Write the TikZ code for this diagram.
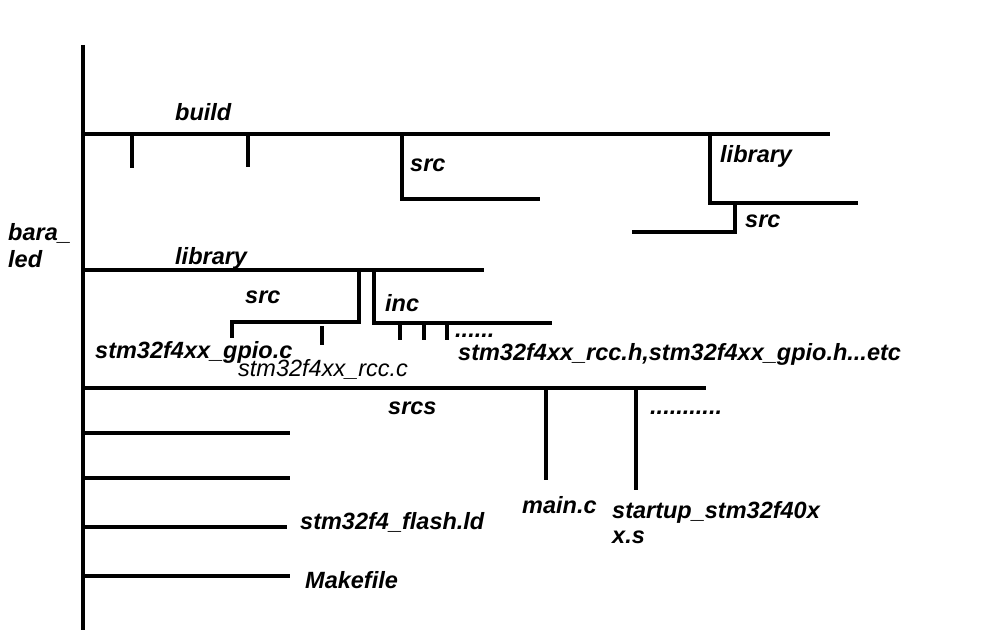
\documentclass[tikz,border=0pt]{standalone}
\usepackage{fontspec}
\setmainfont{Liberation Sans}
\begin{document}
\begin{tikzpicture}[x=1pt,y=-1pt]
    \tikzset{every node/.style={inner sep=0pt,anchor=west,font=\fontsize{23.5}{26}\selectfont\bfseries\itshape},
      br/.style={line width=3.5pt}}
    \useasboundingbox (0,0) rectangle (990,639);
    \draw [br] (83,45) -- (83,630);
    \node (bara) at (8,233) {bara\_};
    \node (led) at (8,259) {led};
    % build
    \draw [br] (83,134) -- (830,134);
    \node (build) at (175,112) {build};
    \draw [br] (132,134) -- (132,168);
    \draw [br] (248,134) -- (248,167);
    \draw [br] (402,134) -- (402,199) -- (540,199);
    \node (bsrc) at (410,165) {src};
    \draw [br] (710,134) -- (710,203) -- (858,203);
    \node (blib) at (720,156) {library};
    \draw [br] (735,203) -- (735,232) -- (632,232);
    \node (blsrc) at (745,221) {src};
    % library
    \draw [br] (83,270) -- (484,270);
    \node (lib) at (175,258) {library};
    \draw [br] (359,270) -- (359,322) -- (232,322) -- (232,338);
    \draw [br] (322,326) -- (322,345);
    \node (lsrc) at (245,297) {src};
    \draw [br] (374,270) -- (374,323) -- (552,323);
    \foreach \x in {400,424,447} \draw [br] (\x,323) -- (\x,340);
    \node (inc) at (385,303) {inc};
    \node (dots) at (455,336) {......};
    \node (gpio) at (95,352) {stm32f4xx\_gpio.c};
    \node (rcc) at (238,369) {\mdseries stm32f4xx\_rcc.c};
    \node (hdr) at (458,354) {stm32f4xx\_rcc.h,stm32f4xx\_gpio.h...etc};
    % srcs
    \draw [br] (83,388) -- (706,388);
    \node (srcs) at (388,408) {srcs};
    \draw [br] (546,388) -- (546,480);
    \draw [br] (636,388) -- (636,490);
    \node (sdots) at (650,413) {...........};
    \node (main) at (522,505) {main.c};
    \node (st1) at (612,512) {startup\_stm32f40x};
    \node (st2) at (612,537) {x.s};
    % files
    \draw [br] (83,433) -- (290,433);
    \draw [br] (83,478) -- (290,478);
    \draw [br] (83,527) -- (287,527);
    \node (ld) at (300,522) {stm32f4\_flash.ld};
    \draw [br] (83,576) -- (290,576);
    \node (mk) at (305,580) {Makefile};
\end{tikzpicture}
\end{document}
